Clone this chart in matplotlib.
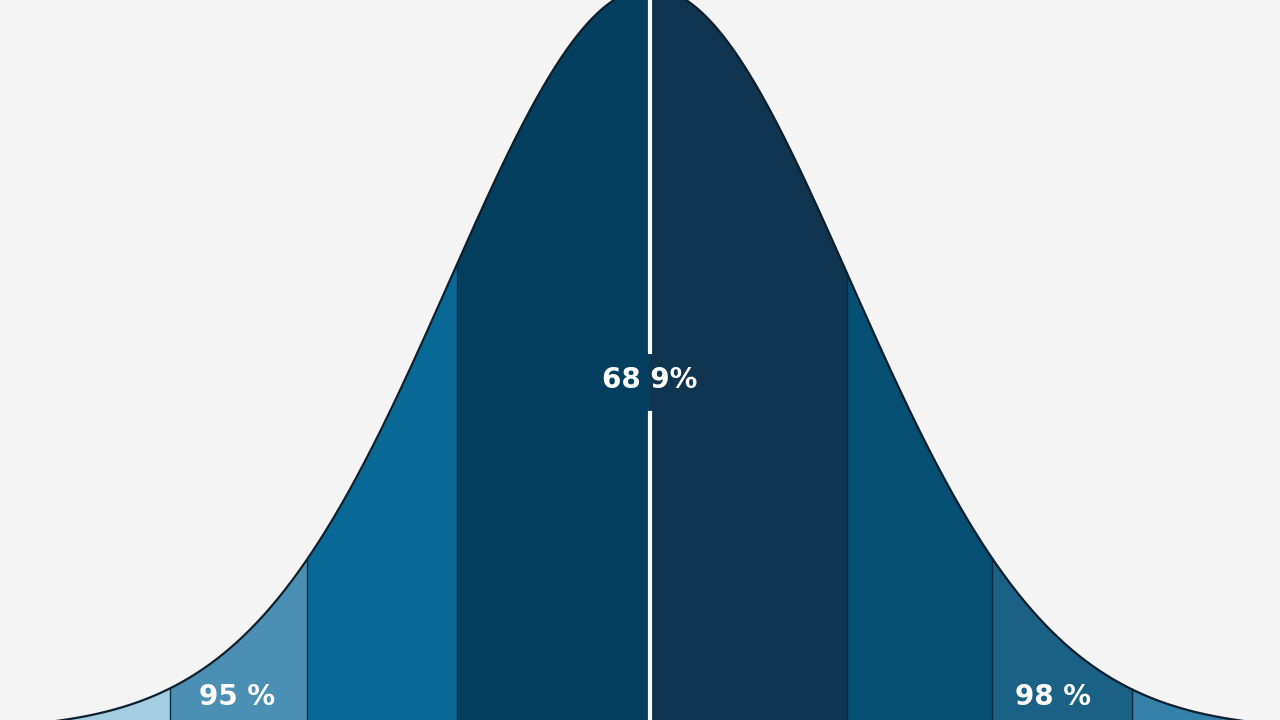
import numpy as np
import matplotlib
matplotlib.use("Agg")
import matplotlib.pyplot as plt

# bell curve (standard normal) and the band edges, in sigma units
mean = 0.0
sd = 1.0
band_edges = [-2.40, -1.715, -0.965, 0.0, 0.985, 1.71, 2.41]
band_colors = ["#a3cde0", "#4b8fb5", "#086896", "#043f5f",
               "#0f3550", "#054f72", "#1b6186", "#3580a8"]
labels = ["68 9%", "95 %", "98 %"]
label_x = [0.0, -2.065, 2.015]
label_y = [0.188, 0.0175, 0.0175]

x_lo, x_hi = -3.25, 3.15
y_lo, y_hi = 0.0054, 0.3925

x = np.linspace(x_lo, x_hi, 1500)
pdf = np.exp(-0.5 * ((x - mean) / sd) ** 2) / (sd * np.sqrt(2 * np.pi))

fig = plt.figure(figsize=(12.8, 7.2), dpi=100)
fig.patch.set_facecolor("#f4f4f4")
ax = fig.add_axes([0, 0, 1, 1])
ax.set_facecolor("#f4f4f4")

edges = [x_lo] + band_edges + [x_hi]
for i in range(len(edges) - 1):
    a, b = edges[i], edges[i + 1]
    xs = np.concatenate([[a], x[(x > a) & (x < b)], [b]])
    ys = np.exp(-0.5 * ((xs - mean) / sd) ** 2) / (sd * np.sqrt(2 * np.pi))
    ax.fill_between(xs, 0, ys, color=band_colors[i], linewidth=0)

# thin dark separators between bands (not at the mean)
for e in band_edges:
    if e == 0.0:
        continue
    h = np.exp(-0.5 * ((e - mean) / sd) ** 2) / (sd * np.sqrt(2 * np.pi))
    ax.plot([e, e], [0, h], color="#0b2b40", lw=1.0)

ax.plot(x, pdf, color="#0d1f2c", lw=1.6)

# white mean line, broken around the label
peak = 1 / (sd * np.sqrt(2 * np.pi))
ax.plot([mean, mean], [0, 0.1705], color="white", lw=3)
ax.plot([mean, mean], [0.2033, peak], color="white", lw=3)

for t, lx, ly in zip(labels, label_x, label_y):
    ax.text(lx, ly, t, color="white", fontsize=20, fontweight="bold",
            ha="center", va="center", family="DejaVu Sans")

ax.set_xlim(x_lo, x_hi)
ax.set_ylim(y_lo, y_hi)
ax.axis("off")

fig.savefig("out.png", dpi=100, facecolor=fig.get_facecolor())
plt.close(fig)
